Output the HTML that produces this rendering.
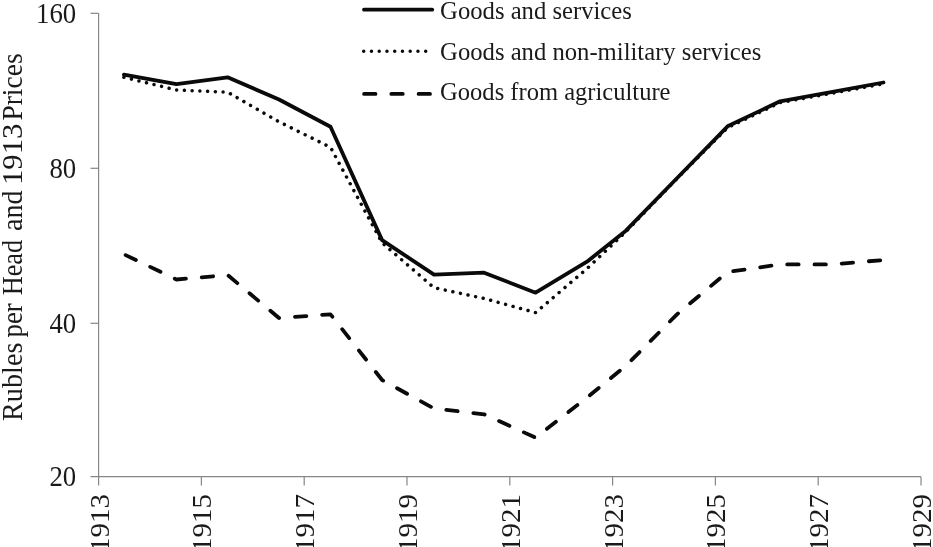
<!DOCTYPE html>
<html><head><meta charset="utf-8"><title>Chart</title>
<style>
html,body{margin:0;padding:0;background:#fff}
svg{display:block;filter:blur(0.45px)}
text{font-family:"Liberation Serif",serif;fill:#1a1a1a}
</style></head><body>
<svg width="933" height="547" viewBox="0 0 933 547">
<rect width="933" height="547" fill="#fff"/>
<g stroke="#878787" stroke-width="1.2" fill="none">
<line x1="98.6" y1="13.3" x2="98.6" y2="476.7"/>
<line x1="90.5" y1="476.7" x2="921.0" y2="476.7"/>
<line x1="90.5" y1="13.3" x2="98.6" y2="13.3"/>
<line x1="90.5" y1="168.3" x2="98.6" y2="168.3"/>
<line x1="90.5" y1="323.3" x2="98.6" y2="323.3"/>
<line x1="98.6" y1="476.7" x2="98.6" y2="485.4"/>
<line x1="201.4" y1="476.7" x2="201.4" y2="485.4"/>
<line x1="304.2" y1="476.7" x2="304.2" y2="485.4"/>
<line x1="407.0" y1="476.7" x2="407.0" y2="485.4"/>
<line x1="509.8" y1="476.7" x2="509.8" y2="485.4"/>
<line x1="612.6" y1="476.7" x2="612.6" y2="485.4"/>
<line x1="715.4" y1="476.7" x2="715.4" y2="485.4"/>
<line x1="818.2" y1="476.7" x2="818.2" y2="485.4"/>
<line x1="921.0" y1="476.7" x2="921.0" y2="485.4"/>
</g>
<g font-size="28.8" text-anchor="end">
<text transform="translate(76.2,22.9) scale(0.93,1)">160</text>
<text transform="translate(76.2,177.9) scale(0.93,1)">80</text>
<text transform="translate(76.2,332.9) scale(0.93,1)">40</text>
<text transform="translate(76.2,486.3) scale(0.93,1)">20</text>
</g>
<g font-size="27.6">
<text transform="translate(108.5,551.9) rotate(-90) scale(1.05,1)">1913</text>
<text transform="translate(211.3,551.9) rotate(-90) scale(1.05,1)">1915</text>
<text transform="translate(314.1,551.9) rotate(-90) scale(1.05,1)">1917</text>
<text transform="translate(416.9,551.9) rotate(-90) scale(1.05,1)">1919</text>
<text transform="translate(519.7,551.9) rotate(-90) scale(1.05,1)">1921</text>
<text transform="translate(622.5,551.9) rotate(-90) scale(1.05,1)">1923</text>
<text transform="translate(725.3,551.9) rotate(-90) scale(1.05,1)">1925</text>
<text transform="translate(828.1,551.9) rotate(-90) scale(1.05,1)">1927</text>
<text transform="translate(930.9,551.9) rotate(-90) scale(1.05,1)">1929</text>
</g>
<text font-size="28.6" transform="translate(22.4,0) rotate(-90)"><tspan x="-421.0" textLength="78.4" lengthAdjust="spacingAndGlyphs">Rubles</tspan> <tspan x="-337.5" textLength="34.2" lengthAdjust="spacingAndGlyphs">per</tspan> <tspan x="-295.3" textLength="55.4" lengthAdjust="spacingAndGlyphs">Head</tspan> <tspan x="-231.0" textLength="40.5" lengthAdjust="spacingAndGlyphs">and</tspan> <tspan x="-185.1" textLength="61.5" lengthAdjust="spacingAndGlyphs">1913</tspan> <tspan x="-120.6" textLength="67.2" lengthAdjust="spacingAndGlyphs">Prices</tspan></text>
<g fill="none" stroke="#0a0a0a" stroke-linejoin="round">
<polyline stroke-width="3.8" stroke-linecap="round" stroke-dasharray="11.4 15.85" stroke-dashoffset="-1.9" points="123.9,254.3 176.5,279.5 227.6,275.0 279.0,318.0 330.5,314.3 382.1,380.0 434.0,408.5 484.1,414.3 535.6,437.7 587.0,397.6 625.9,365.8 676.7,314.6 727.6,272.0 780.1,264.4 832.5,264.4 883.5,260.0"/>
<polyline stroke-width="3.5" stroke-linecap="round" stroke-dasharray="0.01 7.74" points="123.9,77.3 176.5,90.0 227.6,92.2 279.0,121.8 330.5,147.3 382.1,242.8 434.0,287.7 484.1,298.5 535.6,312.6 587.0,268.6 625.9,231.7 676.7,178.9 727.6,127.6 780.1,102.6 832.5,93.2 883.5,83.8"/>
<polyline stroke-width="3.8" stroke-linecap="round" points="123.9,74.6 176.5,84.2 227.6,77.3 279.0,99.5 330.5,126.8 382.1,240.1 434.0,274.7 484.1,272.7 535.6,292.7 587.0,261.7 625.9,230.7 676.7,178.5 727.6,126.3 780.1,101.3 832.5,91.9 883.5,82.5"/>
<line stroke-width="3.8" stroke-linecap="round" x1="364" y1="9.65" x2="432.2" y2="9.65"/>
<line stroke-width="3.5" stroke-linecap="round" stroke-dasharray="0.01 7.74" x1="363.7" y1="51.2" x2="427" y2="51.2"/>
<line stroke-width="3.8" stroke-linecap="round" stroke-dasharray="11.4 15.85" stroke-dashoffset="-1.9" x1="362.2" y1="93.9" x2="432.5" y2="93.9"/>
</g>
<g font-size="24.56">
<text x="440.1" y="18.5" font-size="24.66">Goods and services</text>
<text x="440.1" y="59.7" font-size="24.66">Goods and non-military services</text>
<text x="440.1" y="100.4">Goods from agriculture</text>
</g>
</svg>
</body></html>
